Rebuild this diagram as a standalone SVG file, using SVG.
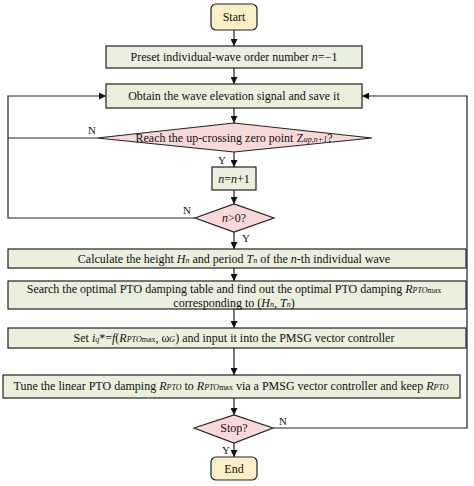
<svg xmlns="http://www.w3.org/2000/svg" width="474" height="486" viewBox="0 0 474 486">
<style>
text{font-family:"Liberation Serif","Times New Roman",serif;font-size:12px;fill:#111;text-anchor:middle}
.box{fill:#EAF0DD;stroke:#222;stroke-width:1.2}
.term{fill:#FCEFC8;stroke:#222;stroke-width:1.2}
.dec{fill:#F9D9D8;stroke:#222;stroke-width:1.2}
.ln{fill:none;stroke:#222;stroke-width:1.2}
.lbl{font-size:11px}
.i{font-style:italic}
.s{font-size:8px;font-style:italic}
</style>
<defs>
<marker id="ar" viewBox="0 0 10 10" refX="10" refY="5" markerWidth="7" markerHeight="7" orient="auto" markerUnits="userSpaceOnUse">
<path d="M0,0 L10,5 L0,10 z" fill="#111"/>
</marker>
</defs>
<rect width="474" height="486" fill="#fff"/>
<g id="connectors">
<line class="ln" x1="234" y1="30" x2="234" y2="46" marker-end="url(#ar)"/>
<line class="ln" x1="234" y1="68" x2="234" y2="84" marker-end="url(#ar)"/>
<line class="ln" x1="234" y1="108" x2="234" y2="123" marker-end="url(#ar)"/>
<line class="ln" x1="234" y1="152" x2="234" y2="167" marker-end="url(#ar)"/>
<line class="ln" x1="234" y1="190" x2="234" y2="204" marker-end="url(#ar)"/>
<line class="ln" x1="234" y1="232" x2="234" y2="249" marker-end="url(#ar)"/>
<line class="ln" x1="234" y1="268" x2="234" y2="281" marker-end="url(#ar)"/>
<line class="ln" x1="234" y1="309" x2="234" y2="328" marker-end="url(#ar)"/>
<line class="ln" x1="234" y1="348" x2="234" y2="375" marker-end="url(#ar)"/>
<line class="ln" x1="234" y1="398" x2="234" y2="415" marker-end="url(#ar)"/>
<line class="ln" x1="234" y1="443" x2="234" y2="457" marker-end="url(#ar)"/>
<polyline class="ln" points="97,138 8,138"/>
<polyline class="ln" points="195,218 8,218 8,96 106,96" marker-end="url(#ar)"/>
<polyline class="ln" points="273,428 467,428 467,96 362,96" marker-end="url(#ar)"/>
<text class="lbl" x="92" y="134">N</text>
<text class="lbl" x="222" y="164">Y</text>
<text class="lbl" x="187" y="214">N</text>
<text class="lbl" x="246" y="242">Y</text>
<text class="lbl" x="283" y="425">N</text>
<text class="lbl" x="226" y="454">Y</text>
</g>
<g id="start">
<rect class="term" x="211" y="4" width="46" height="26" rx="5"/>
<text x="234" y="21">Start</text>
</g>
<g id="preset">
<rect class="box" x="106" y="46" width="256" height="22"/>
<text x="234" y="61">Preset individual-wave order number <tspan class="i">n</tspan>=−1</text>
</g>
<g id="obtain">
<rect class="box" x="106" y="84" width="256" height="24"/>
<text x="234" y="100">Obtain the wave elevation signal and save it</text>
</g>
<g id="reach">
<polygon class="dec" points="97,138 234,123 372,138 234,152"/>
<text x="234" y="142">Reach the up-crossing zero point Z<tspan class="s">up,n+1</tspan>?</text>
</g>
<g id="incr">
<rect class="box" x="212" y="167" width="44" height="23"/>
<text x="234" y="183"><tspan class="i">n</tspan>=<tspan class="i">n</tspan>+1</text>
</g>
<g id="npos">
<polygon class="dec" points="195,218 234,204 274,218 234,232"/>
<text x="234" y="222"><tspan class="i">n</tspan>&gt;0?</text>
</g>
<g id="calc">
<rect class="box" x="8" y="249" width="458" height="19"/>
<text x="234" y="263">Calculate the height <tspan class="i">H</tspan><tspan class="s">n</tspan> and period <tspan class="i">T</tspan><tspan class="s">n</tspan> of the <tspan class="i">n</tspan>-th individual wave</text>
</g>
<g id="search">
<rect class="box" x="8" y="281" width="458" height="28"/>
<text x="234" y="293" font-size="12.5">Search the optimal PTO damping table and find out the optimal PTO damping <tspan class="i">R</tspan><tspan class="s">PTO</tspan><tspan font-size="8">max</tspan></text>
<text x="234" y="306.5">corresponding to (<tspan class="i">H</tspan><tspan class="s">n</tspan>, <tspan class="i">T</tspan><tspan class="s">n</tspan>)</text>
</g>
<g id="set">
<rect class="box" x="8" y="328" width="458" height="20"/>
<text x="234" y="342">Set <tspan class="i">i</tspan><tspan class="s">q</tspan>*=<tspan class="i">f</tspan>(<tspan class="i">R</tspan><tspan class="s">PTO</tspan><tspan font-size="8">max</tspan>, ω<tspan class="s">G</tspan>) and input it into the PMSG vector controller</text>
</g>
<g id="tune">
<rect class="box" x="3" y="375" width="457" height="23"/>
<text x="231" y="390" font-size="12.3">Tune the linear PTO damping <tspan class="i">R</tspan><tspan class="s">PTO</tspan> to <tspan class="i">R</tspan><tspan class="s">PTO</tspan><tspan font-size="8">max</tspan> via a PMSG vector controller and keep  <tspan class="i">R</tspan><tspan class="s">PTO</tspan></text>
</g>
<g id="stop">
<polygon class="dec" points="194,428 234,415 273,428 234,443"/>
<text x="234" y="432">Stop?</text>
</g>
<g id="end">
<rect class="term" x="211" y="457" width="46" height="23" rx="5"/>
<text x="234" y="473">End</text>
</g>
</svg>
